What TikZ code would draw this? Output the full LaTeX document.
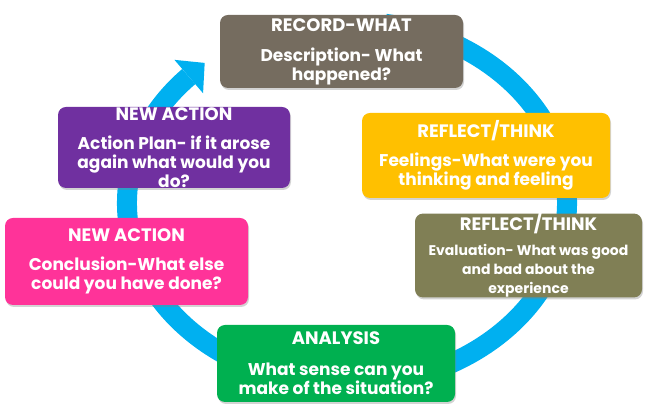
\documentclass[tikz,border=0pt]{standalone}
\usepackage{fontspec}
\setmainfont{Poppins}
\usetikzlibrary{calc,shadows}
\definecolor{brownc}{RGB}{117,108,95}
\definecolor{purplec}{HTML}{7030A0}
\definecolor{pinkc}{HTML}{FF3399}
\definecolor{yellowc}{HTML}{FFC000}
\definecolor{olivec}{RGB}{128,127,85}
\definecolor{greenc}{HTML}{00B050}
\definecolor{ringblue}{HTML}{00B0F0}
\newcommand{\ttl}[1]{{\fontsize{18}{19}\selectfont #1}}
\newcommand{\sml}[1]{{\fontsize{14}{16.5}\selectfont #1}}
\tikzset{
  box/.style={rectangle, rounded corners=8pt, align=center, text=white,
    inner sep=0pt, font=\bfseries\fontsize{17}{19}\selectfont,
    drop shadow={shadow xshift=1pt, shadow yshift=-2pt, opacity=0.35}},
  ring/.style={draw=ringblue, line width=20pt}
}
\begin{document}
\begin{tikzpicture}[x=1pt,y=1pt]
\useasboundingbox (0,0) rectangle (651,417);
\coordinate (C) at (347,214);
% ring
\draw[ring] ($(C)+(80:220 and 182)$) arc[start angle=80, end angle=-224, x radius=220, y radius=182];
\coordinate (B) at ($(C)+(136:220 and 182)$);
\fill[ringblue] ($(B)+(40.6:21)$) -- ($(B)+(130.6:22)$) -- ($(B)+(-49.4:22)$) -- cycle;
% boxes
\node[box, fill=brownc, minimum width=243pt, minimum height=73pt] (record) at (341.5,365.5)
  {\ttl{RECORD-WHAT}\\[11pt]Description- What\\happened?};
\node[box, fill=purplec, minimum width=232pt, minimum height=81pt] (plan) at (174,269.5)
  {\ttl{NEW ACTION}\\[10pt]Action Plan- if it arose\\again what would you\\do?};
\node[box, fill=pinkc, minimum width=243pt, minimum height=87pt] (concl) at (126.5,155.5)
  {\ttl{NEW ACTION}\\[10pt]Conclusion-What else\\could you have done?};
\node[box, fill=yellowc, minimum width=248pt, minimum height=85pt] (feel) at (486,261.5)
  {\ttl{REFLECT/THINK}\\[10pt]Feelings-What were you\\thinking and feeling};
\node[box, fill=olivec, minimum width=227pt, minimum height=75pt] (eval) at (528.5,161.5)
  {\ttl{REFLECT/THINK}\\[6pt]\sml{Evaluation- What was good}\\\sml{and bad about the}\\\sml{experience}};
\node[box, fill=greenc, minimum width=238pt, minimum height=77pt] (anal) at (336,53.5)
  {\ttl{ANALYSIS}\\[12pt]What sense can you\\make of the situation?};
\end{tikzpicture}
\end{document}
